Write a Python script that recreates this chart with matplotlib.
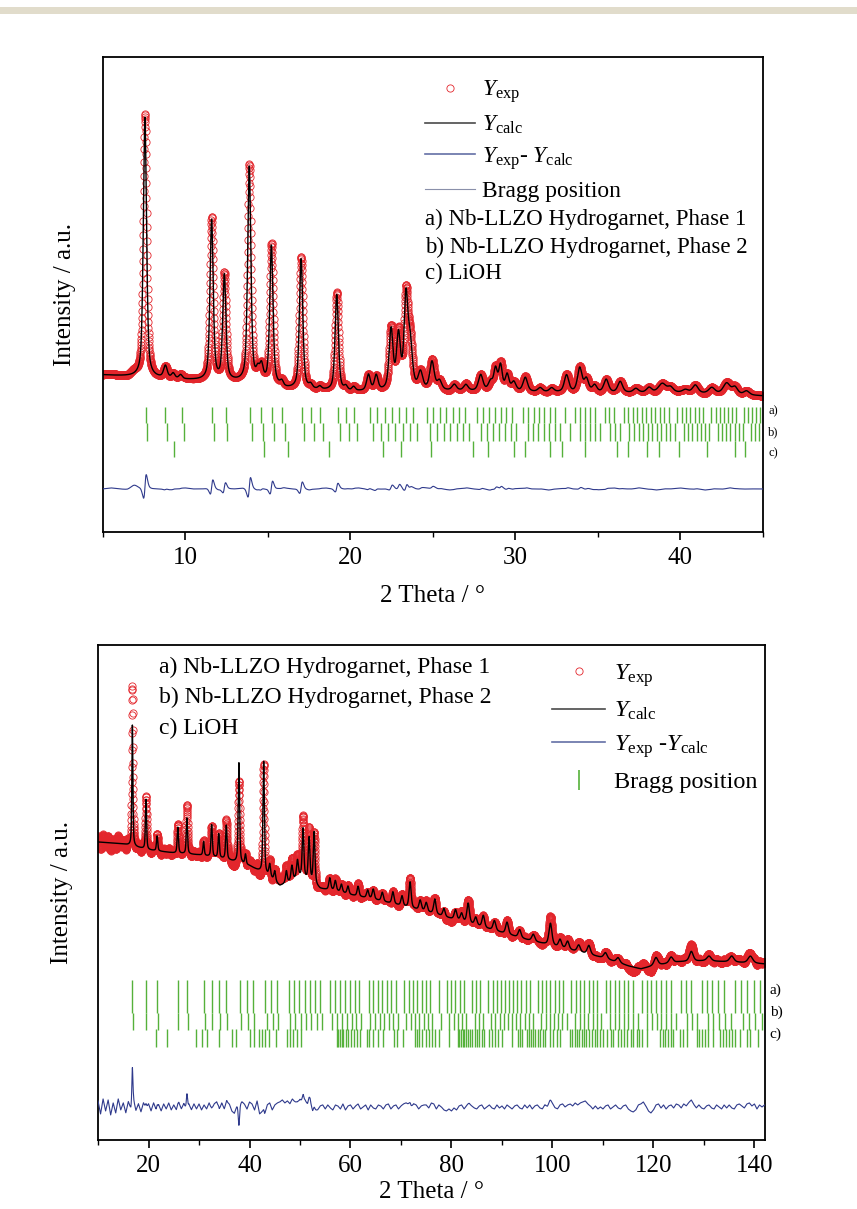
import numpy as np
import matplotlib.pyplot as plt
from matplotlib.patches import Rectangle
from matplotlib.lines import Line2D
from matplotlib.ticker import MultipleLocator

plt.rcParams['font.family'] = ['Liberation Serif', 'DejaVu Serif']
plt.rcParams['mathtext.fontset'] = 'custom'
plt.rcParams['mathtext.rm'] = 'Liberation Serif'
plt.rcParams['mathtext.it'] = 'Liberation Serif:italic'

# ---------------- data: top pattern (Mo Ka) ----------------
top_bg_x = [5, 7, 10, 13, 15, 16, 20, 25, 30, 35, 40, 45]
top_bg_y = [157, 155, 152, 150, 148, 143, 140, 141, 140, 139, 139, 136]

top_pk_pos = [6.9, 7.56, 8.80, 9.27, 9.72, 11.60, 12.37, 13.88, 14.40, 14.62, 15.22, 15.85,
              17.02, 17.60, 18.15, 19.18, 19.73, 20.20, 21.10, 21.57, 22.47, 22.92, 23.37,
              23.62, 24.25, 24.95, 25.40, 26.30, 27.00, 27.90, 28.50, 28.80, 29.10, 29.50,
              29.90, 30.60, 31.50, 32.20, 33.10, 33.90, 34.30, 34.80, 35.50, 36.35, 37.30,
              38.10, 38.90, 39.40, 40.30, 40.90, 41.90, 42.80, 43.30, 44.00]
top_pk_calc = [0, 260, 12, 5, 4, 160, 105, 215, 10, 15, 138, 5,
               130, 4, 3, 96, 4, 4, 16, 15, 60, 53, 88,
               45, 17, 28, 9, 6, 6, 16, 9, 21, 25, 16,
               9, 14, 4, 4, 17, 24, 13, 7, 13, 11, 4,
               5, 9, 5, 3, 8, 6, 11, 7, 4]
top_pk_exp = [4, 262, 12, 5, 4, 162, 107, 217, 10, 15, 140, 5,
              132, 4, 3, 98, 4, 4, 16, 15, 62, 55, 91,
              46, 17, 29, 9, 6, 6, 16, 9, 22, 26, 16,
              9, 14, 4, 4, 17, 25, 13, 7, 13, 11, 4,
              5, 9, 5, 3, 8, 6, 11, 7, 4]
top_pk_fwhm = [0.5, 0.23, 0.26, 0.24, 0.24, 0.23, 0.23, 0.23, 0.24, 0.24, 0.23, 0.24,
               0.24, 0.24, 0.24, 0.24, 0.24, 0.24, 0.26, 0.26, 0.28, 0.28, 0.27,
               0.32, 0.32, 0.32, 0.32, 0.32, 0.32, 0.32, 0.32, 0.25, 0.25, 0.27,
               0.32, 0.32, 0.32, 0.32, 0.32, 0.32, 0.32, 0.32, 0.34, 0.34, 0.36,
               0.36, 0.55, 0.4, 0.4, 0.4, 0.45, 0.5, 0.4, 0.4]
top_noise = [0, 1, 0, -1, 0, 1, 0, 0, -1, 0,
             1, 0, 0, 1, -1, 0, 0, 1, 0, -1,
             0, 0, 1, 0, 0, -1, 0, 1, 0, 0,
             0, 1, 0, -1, 0, 0, 1, -1, 0, 1,
             1, 0, -1, 0, 1, 0, 0, -1, 1, 0,
             0, 1, 0, 0, -1, 0, 1, 0, 0, 0,
             -1, 0, 1, 0, 0, 1, 0, -1, 0, 0,
             1, 0, 0, -1, 0, 0, 1, 0, 0, 0, 0]

# reflections of the garnet phases (h^2+k^2+l^2, I-43d)
garnet_hkl_sq = [6, 8, 10, 14, 16, 20, 22, 24, 26, 30, 32, 34, 38, 40, 42, 46, 48, 50, 52, 54,
                 56, 58, 62, 64, 66, 68, 70, 72, 74, 78, 80, 82, 84, 86, 88, 90, 94, 96, 98, 100,
                 102, 104, 106, 110, 114, 116, 118, 120, 122, 126, 128, 130, 134, 136, 138, 140,
                 142, 144, 146, 148, 150, 152, 154, 158, 160, 162, 164, 166, 168, 170, 174, 176,
                 178, 180, 182, 184, 186, 190, 192, 194, 196, 198, 200, 202, 206, 208, 210, 212,
                 214, 216, 218, 222, 224, 226, 230, 232, 234, 236, 238, 242, 244, 246, 248, 250]
lam_mo, lam_cu = 0.7107, 1.5406
a_top_1, a_top_2 = 13.117, 13.000
a_bot_1, a_bot_2 = 12.915, 12.850

top_lioh = [9.34, 14.8, 16.23, 18.73, 22.0, 23.05, 24.9, 27.45, 28.35, 29.9, 30.6, 32.1, 32.8,
            34.2, 36.15, 36.8, 38.0, 38.7, 39.9, 41.6, 43.3, 43.9]

# ---------------- data: bottom pattern (Cu Ka) ----------------
bot_bg_x = [10, 15, 20, 25, 30, 35, 40, 44, 46, 48, 50, 52, 54, 57, 60, 65, 70, 75, 80, 85,
            90, 95, 100, 105, 110, 115, 117.5, 120, 125, 130, 135, 142]
bot_bg_y = [298, 296, 290, 287, 285, 281, 274, 263, 254, 258, 262, 258, 251, 249, 245, 240,
            234, 228, 221, 214, 207, 200, 194, 188, 182, 174, 171, 174, 178, 179, 178, 176]

bot_pk_pos = [16.8, 19.5, 21.7, 25.8, 27.6, 30.9, 32.5, 33.9, 35.4, 37.9, 39.2, 42.8, 44.0,
              45.0, 47.3, 48.4, 49.5, 50.6, 51.8, 52.8, 55.9, 57.0, 58.2, 59.5, 61.5, 63.4,
              64.5, 66.3, 68.4, 70.2, 71.8, 73.8, 75.0, 76.7, 78.5, 80.8, 82.0, 83.3, 84.8,
              86.3, 88.5, 91.0, 93.5, 96.2, 99.6, 101.5, 103.0, 105.2, 107.2, 110.5, 113.0,
              120.5, 123.5, 127.5, 131.0, 135.5, 139.2]
bot_pk_calc = [121, 50, 15, 26, 36, 14, 32, 24, 34, 100, 10, 112, 12,
               10, 12, 15, 18, 50, 43, 52, 12, 10, 8, 8, 10, 8,
               10, 9, 12, 10, 26, 10, 9, 15, 8, 10, 8, 20, 8,
               12, 10, 12, 8, 7, 22, 8, 8, 7, 9, 6, 5,
               8, 6, 10, 5, 6, 7]
bot_pk_exp = [158, 55, 18, 28, 52, 14, 34, 26, 36, 78, 10, 116, 12,
              10, 12, 16, 20, 58, 48, 56, 12, 10, 8, 8, 10, 8,
              10, 9, 12, 10, 30, 10, 9, 15, 8, 10, 8, 21, 8,
              12, 10, 12, 8, 7, 26, 8, 8, 7, 9, 6, 5,
              8, 6, 11, 5, 6, 7]
bot_pk_fwhm = [0.24, 0.27, 0.3, 0.3, 0.3, 0.3, 0.32, 0.32, 0.32, 0.32, 0.32, 0.34, 0.4,
               0.4, 0.4, 0.45, 0.45, 0.4, 0.4, 0.4, 0.45, 0.45, 0.45, 0.45, 0.45, 0.5,
               0.5, 0.5, 0.5, 0.5, 0.5, 0.55, 0.55, 0.55, 0.55, 0.6, 0.6, 0.6, 0.6,
               0.6, 0.65, 0.65, 0.65, 0.7, 0.7, 0.7, 0.7, 0.75, 0.75, 0.8, 0.8,
               0.9, 0.9, 0.9, 1.0, 1.0, 1.1]
bot_noise = [6, -7, 8, -4, 7, -8, 4, -6, 8, -3,
             4, -6, 5, -3, 6, -4, 3, -5, 4, -2,
             3, -4, 4, -3, 2, -4, 3, -2, 4, -3,
             2, -3, 4, -2, 3, -4, 2, -3, 3, -2,
             3, -3, 2, -2, 4, -3, 3, 5, -3, 4,
             -2, 5, 3, -4, -6, 2, 4, 6, 3, -2,
             5, 3, -3, 6, -7, -5, -8, 2, 4, -3,
             2, 4, 5, 7, 4, 6, 3, 7, 5, 3,
             7, 4, 6, 2, 6, -5, -4, -3, 1, 2,
             -2, 2, -1, -3, 2, 1, -2, 3, -3, 1,
             2, -2, 1, 3, -2, 0, 2, -3, 2, -1,
             -2, 2, 1, -2, 2, 3, -2, 1, 2, -2,
             1, 3, 4, 2, -1, 3, 2, -2, 1, 2,
             2, -1, 4, 3, -2, 2, 0, -3, -4, -2,
             -4, -1, -3, 1, 2, -2, 1, 3, 1, -1,
             -2, 1, 2, -2, 0, 2, -1, -2, 2, -1,
             1, -2, 2, 0, -2, 1, 2, -1, -2, 2,
             -1, 2, -2, 1, 2, -1, -2, 2, 0, 3,
             2, -1, -2, 2, 3, 0, 2, 3, 1, 4,
             2, 4, 5, 6, 3, 1, -2, 1, -2, 0,
             -2, 1, 2, -2, 0, 2, -1, -2, 1, 2,
             -2, -4, -5, -3, 2, 3, 5, 1, -4, -6,
             -3, 2, 3, -1, 2, -2, 1, 2, -1, 3,
             2, -1, 3, 1, 4, 6, 2, -1, 2, -1,
             -2, 1, 2, -1, -2, 2, 0, -2, 2, -1,
             2, -1, -2, 2, 3, 1, -1, 3, 4, 1,
             3, -2, 2, 0, 2]

bot_c = [21.5, 23.6, 29.5, 30.5, 31.6, 33.9, 36.5, 37.3, 40.0, 40.8, 41.8, 42.4, 43.1, 43.9,
         45.2, 47.4, 48.0, 48.7, 49.4, 50.1,
         57.3, 57.6, 57.9, 58.3, 58.6, 59.2, 59.6, 60.1, 60.6, 61.2, 61.9, 63.2, 63.6, 64.5,
         65.5, 66.4, 68.7, 69.2, 70.4,
         72.7, 73.1, 73.6, 74.2, 74.9, 75.6, 76.1, 76.8, 77.6, 79.5,
         81.2, 81.5, 81.8, 82.2, 82.5, 82.9, 83.3, 83.7, 84.1, 84.6, 85.0, 85.5, 86.0, 86.5,
         87.4, 88.0, 88.6, 89.3, 90.1, 91.9,
         93.2, 93.6, 94.0, 94.9, 95.3, 95.7, 96.2, 96.6, 97.1, 97.6, 98.1, 98.6, 99.5, 100.2,
         100.8, 101.5,
         103.5, 103.9, 104.4, 104.8, 105.3, 105.8, 106.2, 106.7, 107.3, 107.8, 108.4, 108.9,
         109.5, 110.1, 110.8, 111.5, 112.0,
         113.0, 113.5, 114.2, 114.8, 115.5, 116.0, 116.7, 117.2, 117.8, 118.7,
         121.3, 121.8, 122.3, 122.8, 123.4, 123.9, 125.2, 125.9, 126.6,
         128.6, 129.1, 129.7, 130.3, 130.9, 131.8,
         133.2, 133.7, 134.3, 134.9, 135.5, 136.2, 137.1, 138.5, 139.1, 140.7]

phase_texts = ['a) Nb-LLZO Hydrogarnet, Phase 1', 'b) Nb-LLZO Hydrogarnet, Phase 2', 'c) LiOH']
row_tags = ['a)', 'b)', 'c)']

RED = '#e3262c'
GREEN = '#55b13a'
NAVY = '#2f3a8c'


def pseudo_voigt(x, pos, h, fwhm, eta=0.55):
    dx = (x - pos) / fwhm
    return h * (eta / (1 + 4 * dx ** 2) + (1 - eta) * np.exp(-4 * np.log(2) * dx ** 2))


def pattern(x, bg_x, bg_y, pos, heights, fwhm, shift=0.0):
    y = np.interp(x, bg_x, bg_y).astype(float)
    for p, h, w in zip(pos, heights, fwhm):
        y += pseudo_voigt(x, p + shift, h, w)
    return y


def bragg(hkl_sq, lam, a, xmax):
    s = lam / (2 * a) * np.sqrt(np.array(hkl_sq, dtype=float))
    s = s[s < 1]
    tt = 2 * np.degrees(np.arcsin(s))
    return tt[tt < xmax]


def draw_panel(ax, x, bg_x, bg_y, pk_pos, pk_calc, pk_exp, pk_fwhm, noise_x, noise,
               shift, diff_off, rows, ticks_sets, tag_y, tag_size):
    y_calc = pattern(x, bg_x, bg_y, pk_pos, pk_calc, pk_fwhm)
    y_exp = pattern(x, bg_x, bg_y, pk_pos, pk_exp, pk_fwhm, shift) + np.interp(x, noise_x, noise)
    ax.plot(x, y_exp, ls='none', marker='o', mfc='none', mec=RED, ms=5.2, mew=0.6, zorder=2)
    ax.plot(x, y_calc, color='black', lw=1.0, zorder=3)
    ax.plot(x, y_exp - y_calc + diff_off, color=NAVY, lw=0.8, zorder=3)
    for (lo, hi), tt in zip(rows, ticks_sets):
        ax.vlines(tt, lo, hi, color=GREEN, lw=1.0)
    for tag, ty in zip(row_tags, tag_y):
        ax.text(1.008, ty, tag, transform=ax.get_yaxis_transform(), fontsize=tag_size,
                va='center', ha='left')
    ax.set_yticks([])
    for sp in ax.spines.values():
        sp.set_linewidth(1.3)
    ax.tick_params(axis='x', which='major', direction='out', length=6, width=1.2,
                   labelsize=18, pad=5, top=False)
    ax.tick_params(axis='x', which='minor', direction='out', length=3.5, width=1.0, top=False)
    ax.set_xlabel('2 Theta / °', fontsize=18)
    ax.set_ylabel('Intensity / a.u.', fontsize=18)


fig = plt.figure(figsize=(8.57, 12.09), dpi=100)
fig.add_artist(Rectangle((0, 1 - 13.5 / 1209), 1, 6.5 / 1209, transform=fig.transFigure,
                         color='#e1dccb', lw=0))

# ---------- top panel ----------
ax1 = fig.add_axes([0.1198, 0.5600, 0.7705, 0.3929])
x1 = np.arange(5.0, 45.0, 0.01)
draw_panel(ax1, x1, top_bg_x, top_bg_y, top_pk_pos, top_pk_calc, top_pk_exp, top_pk_fwhm,
           np.arange(5.0, 45.01, 0.5), top_noise, 0.008, 43,
           [(109, 125), (91, 109), (75, 91)],
           [bragg(garnet_hkl_sq, lam_mo, a_top_1, 45), bragg(garnet_hkl_sq, lam_mo, a_top_2, 45),
            top_lioh],
           [121, 100, 79], 9)
ax1.set_xlim(5, 45)
ax1.set_ylim(0, 475)
ax1.xaxis.set_major_locator(MultipleLocator(10))
ax1.xaxis.set_minor_locator(MultipleLocator(5))
ax1.yaxis.set_label_coords(-0.041, 0.5)
ax1.xaxis.set_label_coords(0.5, -0.112)

leg_top = [Line2D([], [], ls='none', marker='o', mfc='none', mec=RED, ms=5.2, mew=0.6),
           Line2D([], [], color='#4a4a4a', lw=1.2),
           Line2D([], [], color='#6470a6', lw=1.2),
           Line2D([], [], color='#8a90aa', lw=0.8)]
ax1.legend(leg_top, [r'$Y_{\rm exp}$', r'$Y_{\rm calc}$', r'$Y_{\rm exp}$- $Y_{\rm calc}$',
                     'Bragg position'],
           loc='upper left', bbox_to_anchor=(0.488, 0.955), frameon=False, fontsize=16.8,
           handlelength=2.15, handletextpad=0.3, labelspacing=0.38, borderpad=0,
           borderaxespad=0)
for txt, ty in zip(phase_texts, [0.657, 0.598, 0.545]):
    ax1.text(0.488, ty, txt, transform=ax1.transAxes, fontsize=16.5, va='center', ha='left')

# ---------- bottom panel ----------
ax2 = fig.add_axes([0.1144, 0.0571, 0.7777, 0.4094])
x2 = np.arange(10.0, 142.0, 0.02)
draw_panel(ax2, x2, bot_bg_x, bot_bg_y, bot_pk_pos, bot_pk_calc, bot_pk_exp, bot_pk_fwhm,
           np.arange(10.0, 142.01, 0.5), bot_noise, 0.0, 33,
           [(127, 160), (110, 127), (93, 111)],
           [bragg(garnet_hkl_sq, lam_cu, a_bot_1, 142), bragg(garnet_hkl_sq, lam_cu, a_bot_2, 142),
            bot_c],
           [150, 128, 106], 11)
ax2.set_xlim(10, 142)
ax2.set_ylim(0, 495)
ax2.xaxis.set_major_locator(MultipleLocator(20))
ax2.xaxis.set_minor_locator(MultipleLocator(10))
ax2.yaxis.set_label_coords(-0.0375, 0.5)
ax2.xaxis.set_label_coords(0.5, -0.082)

leg_bot = [Line2D([], [], ls='none', marker='o', mfc='none', mec=RED, ms=5.2, mew=0.6),
           Line2D([], [], color='#4a4a4a', lw=1.2),
           Line2D([], [], color='#6470a6', lw=1.2),
           Line2D([], [], ls='none', marker='|', color=GREEN, ms=14, mew=1.2)]
ax2.legend(leg_bot, [r'$Y_{\rm exp}$', r'$Y_{\rm calc}$', r'$Y_{\rm exp}$ -$Y_{\rm calc}$',
                     'Bragg position'],
           loc='upper left', bbox_to_anchor=(0.681, 0.965), frameon=False, fontsize=17.5,
           handlelength=2.2, handletextpad=0.35, labelspacing=0.45, borderpad=0,
           borderaxespad=0)
for txt, ty in zip(phase_texts, [0.9556, 0.8949, 0.8323]):
    ax2.text(0.0915, ty, txt, transform=ax2.transAxes, fontsize=17, va='center', ha='left')

fig.savefig('out.png', dpi=100)
